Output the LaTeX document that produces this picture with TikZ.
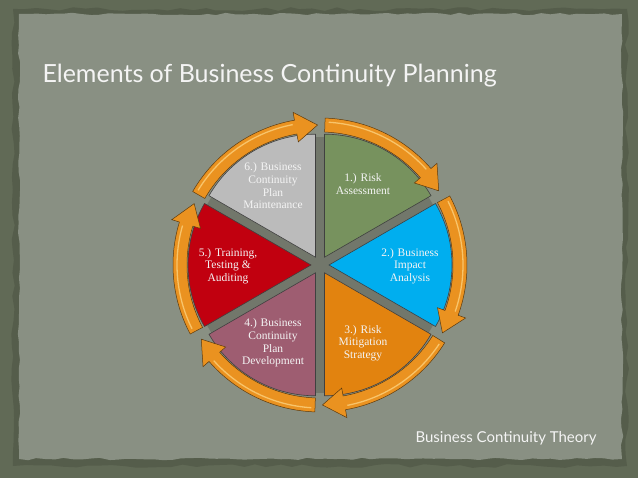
\documentclass[tikz,border=0pt]{standalone}
\usepackage{fontspec}
\newfontfamily\titlefont{Lato}
\newfontfamily\slicefont{Liberation Serif}
\usetikzlibrary{decorations.pathmorphing}

\definecolor{outergreen}{HTML}{616A56}
\definecolor{edgegreen}{HTML}{555D4B}
\definecolor{panelgrey}{HTML}{899083}
\definecolor{gapgrey}{HTML}{72776B}
\definecolor{riskgreen}{HTML}{77925E}
\definecolor{impactblue}{HTML}{00AEEF}
\definecolor{mitorange}{HTML}{E2830F}
\definecolor{devmauve}{HTML}{9E5D71}
\definecolor{trainred}{HTML}{C1000F}
\definecolor{maintgrey}{HTML}{BBBBBB}
\definecolor{arrowfill}{HTML}{EA9220}
\definecolor{arrowline}{HTML}{5C3A0E}
\definecolor{arrowshine}{HTML}{F8C46A}
\definecolor{labelwhite}{HTML}{F4F4F4}

% one slice of the exploded pie: bisector angle, colour
\newcommand{\wedgepiece}[2]{%
  \filldraw[#2,draw=black!75,line width=0.6pt]
    (#1:9) -- +(#1-30:123) arc[start angle=#1-30,end angle=#1+30,radius=123] -- cycle;
}
% one curved arrow of the ring: start angle, tip angle (clockwise)
\newcommand{\cyclearrow}[2]{%
  \filldraw[arrowfill,draw=arrowline,line width=0.5pt]
    (#1:147) arc[start angle=#1,end angle=#2+9,radius=147]
    -- (#2+9:155) -- (#2:140) -- (#2+9:125) -- (#2+9:133)
    arc[start angle=#2+9,end angle=#1,radius=133] -- cycle;
  \draw[arrowshine,line width=1.3pt] (#1-1.5:143) arc[start angle=#1-1.5,end angle=#2+10,radius=143];
}

\begin{document}
\begin{tikzpicture}[x=1pt,y=1pt,
    slicetext/.style={text=labelwhite,align=center,font=\slicefont\fontsize{11.5}{12.7}\selectfont}]
    \useasboundingbox (0,0) rectangle (638,478);
    \pgfmathsetseed{11}

    % background and torn panel
    \fill[outergreen] (0,0) rectangle (638,478);
    \fill[edgegreen,decorate,decoration={random steps,segment length=12pt,amplitude=2pt}]
        (13,12) rectangle (627,469);
    \fill[panelgrey,decorate,decoration={random steps,segment length=9pt,amplitude=1.2pt}]
        (19,19) rectangle (622,464);

    \node[anchor=base west,text=labelwhite,font=\titlefont\fontsize{25}{30}\selectfont]
        (title) at (39,395) {Elements of Business Continuity Planning};

    \begin{scope}[shift={(320,213)}]
        % gaps between the slices
        \foreach \a in {30,90,...,330}
            \draw[gapgrey,line width=10pt] (0,0) -- (\a:128);
        \fill[gapgrey] (0,0) circle (9);

        \wedgepiece{60}{riskgreen}
        \wedgepiece{0}{impactblue}
        \wedgepiece{-60}{mitorange}
        \wedgepiece{-120}{devmauve}
        \wedgepiece{180}{trainred}
        \wedgepiece{120}{maintgrey}

        \cyclearrow{88}{32}
        \cyclearrow{28}{-29}
        \cyclearrow{-32}{-89}
        \cyclearrow{-92}{-148}
        \cyclearrow{-152}{-206}
        \cyclearrow{-210}{-269}

        \node[slicetext] (risk)  at (43,81)   {1.) Risk\\Assessment};
        \node[slicetext] (bia)   at (90,-1)   {2.) Business\\Impact\\Analysis};
        \node[slicetext] (mit)   at (43,-78)  {3.) Risk\\Mitigation\\Strategy};
        \node[slicetext] (dev)   at (-47,-78) {4.) Business\\Continuity\\Plan\\Development};
        \node[slicetext] (train) at (-92,-1)  {5.) Training,\\Testing \&\\Auditing};
        \node[slicetext] (maint) at (-47,79)  {6.) Business\\Continuity\\Plan\\Maintenance};
    \end{scope}

    \node[anchor=base west,text=labelwhite,font=\titlefont\fontsize{15}{18}\selectfont]
        (source) at (412,35) {Business Continuity Theory};
\end{tikzpicture}
\end{document}
